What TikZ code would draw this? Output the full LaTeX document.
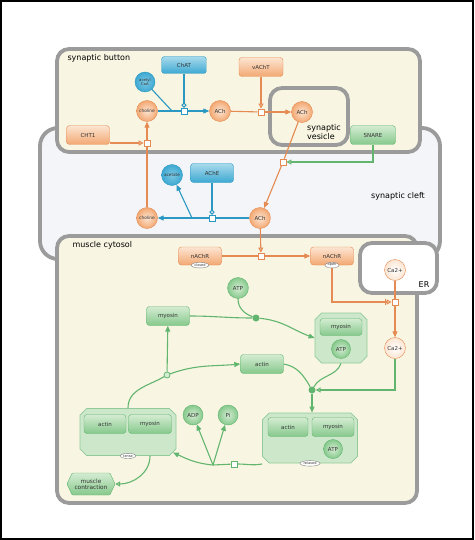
\documentclass[tikz,border=0pt]{standalone}
\usepackage{fontspec}
\setmainfont{DejaVu Sans}
\usetikzlibrary{arrows.meta,
                calc,
                positioning,
                shapes.geometric,
                shapes.misc,
                shapes.symbols}
\definecolor{frameg}{HTML}{9B9B9B}
\definecolor{cream}{HTML}{F8F6E2}
\definecolor{cleftc}{HTML}{F4F5F8}
\definecolor{orD}{HTML}{E48A52}
\definecolor{orL}{HTML}{FCE5D2}
\definecolor{orM}{HTML}{F3A872}
\definecolor{blD}{HTML}{2A98C2}
\definecolor{blL}{HTML}{A8DAEC}
\definecolor{blM}{HTML}{3DA9D2}
\definecolor{grD}{HTML}{62B56F}
\definecolor{grL}{HTML}{D4ECD2}
\definecolor{grM}{HTML}{86C98C}
\definecolor{cplx}{HTML}{CDE7CA}
\definecolor{txt}{HTML}{333333}

\begin{document}
\begin{tikzpicture}[x=1pt, y=1pt,
    font=\fontsize{5.5}{6}\selectfont, text=txt,
      comp/.style = {draw=frameg, line width=3.8pt, rounded corners=12pt, fill=cream},
   complab/.style = {font=\fontsize{8}{9}\selectfont, text=black},
       epn/.style = {draw, rounded corners=3pt, minimum width=43pt,
                     minimum height=19pt, inner sep=1pt},
    ornode/.style = {epn, draw=orD, top color=orL, bottom color=orM},
    blnode/.style = {epn, draw=blD, top color=blL, bottom color=blM},
    grnode/.style = {epn, draw=grD, top color=grL, bottom color=grM},
    simple/.style = {circle, draw, minimum size=21pt, inner sep=0pt},
    orcirc/.style = {simple, draw=orD, inner color=orL, outer color=orM},
    blcirc/.style = {simple, draw=blD, inner color=blL!60!blM, outer color=blM},
    grcirc/.style = {simple, draw=grD, inner color=grL, outer color=grM},
    cacirc/.style = {simple, draw=orD, inner color=white, outer color=orL},
   cplxbox/.style = {chamfered rectangle, chamfered rectangle xsep=4pt,
                     chamfered rectangle ysep=4pt, draw=grD!70, fill=cplx,
                     line width=0.8pt},
      proc/.style = {rectangle, draw, fill=white, minimum size=6pt,
                     inner sep=0pt, line width=0.8pt},
    statev/.style = {ellipse, draw=gray, fill=white, inner sep=0.6pt,
                     font=\fontsize{3.5}{4}\selectfont},
     assoc/.style = {circle, fill=grD, minimum size=7pt, inner sep=0pt},
    dissoc/.style = {circle, draw=grD, fill=grL, minimum size=6pt,
                     inner sep=0pt, line width=0.8pt},
      link/.style = {line width=1.1pt},
      flow/.style = {link, -{Triangle[length=6pt,width=5pt]}},
      stim/.style = {link, -{Triangle[open,length=5pt,width=5pt]}},
     nstim/.style = {link, -{Bar[width=6pt,sep=1pt]Triangle[open,length=5pt,width=5pt]}},
     catal/.style = {link, -{Circle[open,length=5pt,width=5pt]}}
]
\useasboundingbox (0,0) rectangle (474,-540);
\draw[black, line width=2pt] (1,-1) rectangle (473,-539);

% compartments
\draw[comp, fill=cleftc, rounded corners=18pt] (40,-128) rectangle (440,-259);
\draw[comp] (57,-49) rectangle (420,-152);
\draw[comp] (57,-236) rectangle (417,-503);
\draw[comp] (270,-88) rectangle (348,-145);
\draw[comp, fill=white] (360,-243) rectangle (437,-293);

% synaptic button
\node[complab, anchor=west] (lbButton) at (64,-58) {synaptic button};
\node[blnode, minimum width=45pt, minimum height=17pt] (ChAT) at (184,-65) {ChAT};
\node[blcirc, minimum size=20pt, align=center,
      font=\fontsize{3.8}{4}\selectfont] (AcCoA) at (145,-82) {acetyl\\CoA};
\node[orcirc, font=\fontsize{4.4}{5}\selectfont] (cholB) at (147,-111) {choline};
\node[proc, draw=blD] (pChAT) at (184,-111) {};
\coordinate (jChAT) at (172,-111);
\node[orcirc] (AChB) at (220,-111) {ACh};
\node[ornode, minimum width=44pt] (vAChT) at (261,-67) {vAChT};
\node[proc, draw=orD] (pvAChT) at (261,-112) {};
\node[orcirc] (AChV) at (302,-112) {ACh};
\node[complab, align=left] (lbVes) at (324,-132) {synaptic\\vesicle};
\node[ornode] (CHT1) at (88,-135) {CHT1};
\node[proc, draw=orD] (pCHT) at (147,-143) {};
\node[grnode, minimum width=45pt] (SNARE) at (373,-135) {SNARE};

% synaptic cleft
\node[complab] (lbCleft) at (398,-196) {synaptic cleft};
\node[proc, draw=orD] (pRel) at (283,-162) {};
\node[blcirc, font=\fontsize{4.2}{5}\selectfont] (acet) at (172,-175) {acetate};
\node[blnode] (AChE) at (212,-173) {AChE};
\node[proc, draw=blD] (pAChE) at (212,-218) {};
\coordinate (jAChE) at (192,-218);
\node[orcirc, font=\fontsize{4.4}{5}\selectfont] (cholC) at (147,-218) {choline};
\node[orcirc] (AChC) at (260,-218) {ACh};

% muscle cytosol
\node[complab, anchor=west] (lbCyto) at (69,-245) {muscle cytosol};
\node[ornode, minimum height=18pt] (nAChRc) at (200,-256) {nAChR};
\node[proc, draw=orD] (pnA) at (261,-256) {};
\node[ornode, minimum height=18pt] (nAChRo) at (332,-256) {nAChR};
\node[complab] (lbER) at (424,-285) {ER};
\node[cacirc] (CaER) at (395,-270) {Ca2+};
\node[proc, draw=orD] (pCa) at (395,-302) {};
\node[cacirc] (CaCy) at (395,-348) {Ca2+};

\node[grcirc] (ATPa) at (238,-288) {ATP};
\node[grnode] (myoA) at (168,-316) {myosin};
\node[assoc] (asA) at (256,-318) {};
\node[cplxbox, minimum width=52pt, minimum height=50pt] (cMA) at (341,-338) {};
\node[grnode, minimum width=42pt, minimum height=17pt] (myoB) at (341,-327) {myosin};
\node[grcirc, minimum size=19pt] (ATPb) at (341,-349) {ATP};
\node[grnode] (actA) at (262,-364) {actin};
\node[dissoc] (dsA) at (167,-375) {};
\node[assoc] (asB) at (312,-390) {};

\node[cplxbox, minimum width=95pt, minimum height=50pt] (cRel) at (310,-438) {};
\node[grnode, minimum width=40pt] (actR) at (288,-427) {actin};
\node[grnode, minimum width=42pt] (myoR) at (333,-427) {myosin};
\node[grcirc, minimum size=19pt] (ATPr) at (333,-449) {ATP};
\node[cplxbox, minimum width=96pt, minimum height=47pt] (cTen) at (128,-432) {};
\node[grnode, minimum width=42pt] (actT) at (105,-424) {actin};
\node[grnode, minimum width=43pt] (myoT) at (150,-424) {myosin};
\node[grcirc, minimum size=20pt] (ADP) at (193,-415) {ADP};
\node[grcirc, minimum size=20pt] (Pi) at (228,-415) {Pi};
\node[proc, draw=grD] (pHyd) at (234,-464) {};
\coordinate (jHyd) at (213,-465);
\node[grnode, signal, signal to=west and east, signal pointer angle=130,
      rounded corners=1pt, minimum width=48pt, minimum height=22pt, inner sep=0.5pt,
      align=center, font=\fontsize{5.8}{6.2}\selectfont] (mc) at (91,-484) {muscle\\contraction};

% button reactions
\draw[link, blD] (cholB) -- (pChAT);
\draw[link, blD] (AcCoA) -- (jChAT);
\draw[flow, blD] (pChAT) -- (AChB);
\draw[catal, blD] (ChAT) -- (pChAT);
\draw[link, orD] (AChB) -- (pvAChT);
\draw[flow, orD] (pvAChT) -- (AChV);
\draw[stim, orD] (vAChT) -- (pvAChT);
\draw[link, orD] (cholC) -- (pCHT);
\draw[flow, orD] (pCHT) -- (cholB);
\draw[stim, orD] (CHT1.east |- pCHT) -- (pCHT);

% release and cleft
\draw[link, orD] (AChV) -- (pRel);
\draw[flow, orD] (pRel) -- (AChC);
\draw[stim, grD] (SNARE) |- (pRel);
\draw[link, blD] (AChC) -- (pAChE);
\draw[flow, blD] (pAChE) -- (cholC);
\draw[flow, blD] (jAChE) -- (acet);
\draw[catal, blD] (AChE) -- (pAChE);

% receptor and calcium
\draw[stim, orD] (AChC) -- (pnA);
\draw[link, orD] (nAChRc) -- (pnA);
\draw[flow, orD] (pnA) -- (nAChRo);
\draw[nstim, orD] (nAChRo) |- (pCa);
\draw[link, orD] (CaER) -- (pCa);
\draw[flow, orD] (pCa) -- (CaCy);
\draw[stim, grD] (CaCy) |- (asB);

% cross-bridge cycle
\draw[link, grD] (myoA) to[out=0, in=180] (asA);
\draw[link, grD] (ATPa) to[out=-90, in=160] (asA);
\draw[flow, grD] (asA) to[out=-5, in=160] (cMA.west);
\draw[link, grD] (actA.east) to[out=-10, in=120] (asB);
\draw[link, grD] (cMA.south) to[out=-110, in=60] (asB);
\draw[flow, grD] (asB) -- (asB |- cRel.north);
\draw[link, grD] (cTen.north) to[out=90, in=-150] (dsA);
\draw[flow, grD] (dsA) to[out=20, in=185] (actA.west);
\draw[flow, grD] (dsA) -- (myoA);
\draw[link, grD] (cRel.west |- pHyd) to[out=190, in=0] (pHyd);
\draw[link, grD] (pHyd) -- (jHyd);
\draw[flow, grD] (jHyd) to[out=175, in=-25] (cTen.south east);
\draw[flow, grD] (jHyd) -- (ADP);
\draw[flow, grD] (jHyd) -- (Pi);
\draw[stim, grD] (cTen.south -| myoT) to[out=-90, in=0] (mc.east);

% state variables
\node[statev] (stC) at (nAChRc.south) {closed};
\node[statev] (stO) at (nAChRo.south) {open};
\node[statev] (stR) at (cRel.south) {relaxed};
\node[statev] (stT) at (cTen.south) {tense};
\end{tikzpicture}
\end{document}
